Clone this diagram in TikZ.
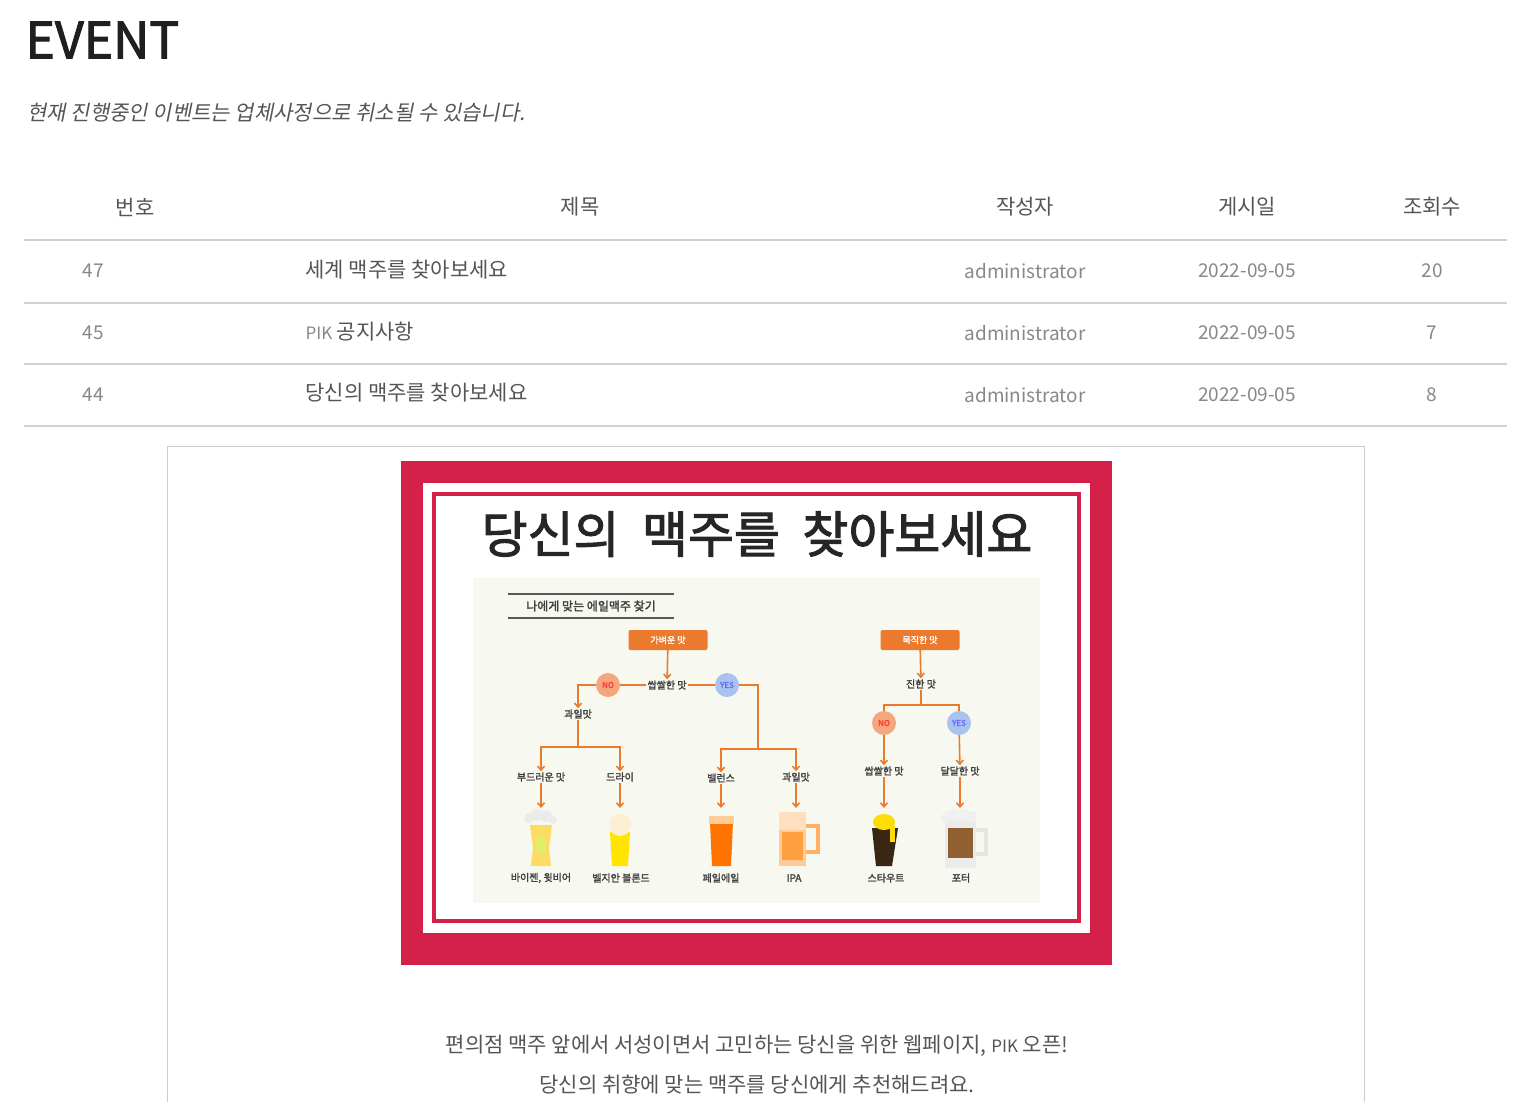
\documentclass[tikz,border=0pt]{standalone}
\usepackage{fontspec}
\usetikzlibrary{arrows.meta}
\setmainfont{Noto Sans CJK KR}
\newfontfamily\kr{Noto Sans CJK KR}
\newfontfamily\krit[FakeSlant=0.2]{Noto Sans CJK KR}
\newfontfamily\krb[FakeBold=2]{Noto Sans CJK KR}
\definecolor{frred}{HTML}{D42149}
\definecolor{orng}{HTML}{EC7A2E}
\definecolor{txtg}{HTML}{555555}
\definecolor{ltg}{HTML}{888888}
\definecolor{pale}{HTML}{F7F9F1}
\definecolor{nocol}{HTML}{F4A77F}
\definecolor{yescol}{HTML}{A9C2EE}
\begin{document}
\begin{tikzpicture}[x=1pt,y=-1pt,
  hdr/.style={font=\fontsize{21}{24}\selectfont\kr, text=txtg},
  cell/.style={font=\fontsize{19}{22}\selectfont\kr, text=ltg},
  ttl/.style={font=\fontsize{21}{24}\selectfont\kr, text=txtg, anchor=west},
  sep/.style={draw=black!18, line width=1.2},
  obox/.style={fill=orng, rounded corners=2, minimum width=79, minimum height=20, text=white, font=\fontsize{9}{10}\selectfont\krb, inner sep=0},
  lab/.style={font=\fontsize{10}{11}\selectfont\krb, text=black!75, inner sep=1},
  fl/.style={draw=orng, line width=1.6},
  fa/.style={draw=orng, line width=1.6, -{Straight Barb[length=4,width=7]}},
  nob/.style={circle, fill=nocol, minimum size=24, inner sep=0, text=red!80, font=\fontsize{8}{9}\selectfont\krb},
  yesb/.style={circle, fill=yescol, minimum size=24, inner sep=0, text=blue!60, font=\fontsize{8}{9}\selectfont\krb},
  body/.style={font=\fontsize{21}{24}\selectfont\kr, text=txtg}
]
\useasboundingbox (0,0) rectangle (1525,1102);
\fill[white] (0,0) rectangle (1525,1102);
% header
\node[anchor=west, font=\fontsize{50}{56}\selectfont\krb, text=black!88] (ev) at (22,40) {EVENT};
\node[anchor=west, font=\fontsize{21}{24}\selectfont\krit, text=txtg] (sub) at (24,113) {현재 진행중인 이벤트는 업체사정으로 취소될 수 있습니다.};
% table
\node[hdr] (h1) at (135,207) {번호};
\node[hdr] (h2) at (580,207) {제목};
\node[hdr] (h3) at (1025,207) {작성자};
\node[hdr] (h4) at (1247,207) {게시일};
\node[hdr] (h5) at (1432,207) {조회수};
\draw[sep] (24,240) -- (1507,240);
\draw[sep] (24,303) -- (1507,303);
\draw[sep] (24,364) -- (1507,364);
\draw[sep] (24,426) -- (1507,426);
\node[cell] (r1a) at (93,271) {47};
\node[ttl] (r1b) at (302,270) {세계 맥주를 찾아보세요};
\node[cell] (r1c) at (1025,271) {administrator};
\node[cell] (r1d) at (1247,271) {2022-09-05};
\node[cell] (r1e) at (1432,271) {20};
\node[cell] (r2a) at (93,333) {45};
\node[ttl] (r2b) at (302,332) {{\fontsize{17}{20}\selectfont\color{ltg}PIK} 공지사항};
\node[cell] (r2c) at (1025,333) {administrator};
\node[cell] (r2d) at (1247,333) {2022-09-05};
\node[cell] (r2e) at (1432,333) {7};
\node[cell] (r3a) at (93,395) {44};
\node[ttl] (r3b) at (302,393) {당신의 맥주를 찾아보세요};
\node[cell] (r3c) at (1025,395) {administrator};
\node[cell] (r3d) at (1247,395) {2022-09-05};
\node[cell] (r3e) at (1432,395) {8};
% content box
\draw[black!20, line width=1] (167,1110) -- (167,446) -- (1364,446) -- (1364,1110);
% poster frame
\fill[frred] (401,461) rectangle (1112,965);
\fill[white] (423,483) rectangle (1090,933);
\draw[frred, line width=4] (434,494) rectangle (1079,921);
\node[font=\fontsize{50}{56}\selectfont\krb, text=black!85] (pt) at (757,534) {당신의\ \ 맥주를\ \ 찾아보세요};
\fill[pale] (473,578) rectangle (1040,903);
\node[font=\fontsize{12}{14}\selectfont\krb, text=black!75] (it) at (591,606) {나에게 맞는 에일맥주 찾기};
\draw[black!65, line width=1.8] (508,594) -- (674,594) (508,618) -- (674,618);
% left tree
\node[obox] (lb) at (668,640) {가벼운 맛};
\node[lab] (ss) at (667,685) {쌉쌀한 맛};
\node[nob] (no1) at (608,685) {NO};
\node[yesb] (ye1) at (727,685) {YES};
\draw[fa] (lb) -- (ss);
\draw[fl] (ss) -- (no1) (ss) -- (ye1);
\node[lab] (fr1) at (578,714) {과일맛};
\draw[fa] (no1) -| (fr1);
\node[lab] (sm) at (541,777) {부드러운 맛};
\node[lab] (dr) at (620,777) {드라이};
\coordinate (j1) at (578,747);
\draw[fl] (fr1) -- (j1);
\draw[fa] (j1) -| (sm);
\draw[fa] (j1) -| (dr);
\node[lab] (bal) at (721,778) {밸런스};
\node[lab] (fr2) at (796,777) {과일맛};
\coordinate (j2) at (758,749);
\draw[fl] (ye1) -| (j2);
\draw[fa] (j2) -| (bal);
\draw[fa] (j2) -| (fr2);
% right tree
\node[obox] (hb) at (920,640) {묵직한 맛};
\node[lab] (jh) at (921,684) {진한 맛};
\draw[fa] (hb) -- (jh);
\node[nob] (no2) at (884,723) {NO};
\node[yesb] (ye2) at (959,723) {YES};
\coordinate (j3) at (921,705);
\draw[fl] (jh) -- (j3);
\draw[fl] (j3) -| (no2);
\draw[fl] (j3) -| (ye2);
\node[lab] (ss2) at (884,771) {쌉쌀한 맛};
\node[lab] (dd) at (960,771) {달달한 맛};
\draw[fa] (no2) -- (ss2);
\draw[fa] (ye2) -- (dd);
% beer labels
\node[lab] (b1) at (541,878) {바이젠, 윗비어};
\node[lab] (b2) at (621,878) {벨지안 블론드};
\node[lab] (b3) at (721,878) {페일에일};
\node[lab] (b4) at (794,878) {IPA};
\node[lab] (b5) at (886,878) {스타우트};
\node[lab] (b6) at (961,878) {포터};
\coordinate (g1) at (541,808); \coordinate (g2) at (620,808);
\coordinate (g3) at (721,808); \coordinate (g4) at (796,808);
\coordinate (g5) at (884,808); \coordinate (g6) at (960,808);
\draw[fa] (sm) -- (g1); \draw[fa] (dr) -- (g2);
\draw[fa] (bal) -- (g3); \draw[fa] (fr2) -- (g4);
\draw[fa] (ss2) -- (g5); \draw[fa] (dd) -- (g6);
% glasses
\fill[yellow!60!orange!60] (530,825) -- (552,825) -- (549,848) -- (551,866) -- (531,866) -- (533,848) -- cycle;
\fill[yellow!80!green!60] (541,845) ellipse (5 and 10);
\fill[black!8] (529,818) circle (5) (537,815) circle (6) (546,816) circle (6) (553,820) circle (4);
\fill[orange!20!yellow] (610,832) -- (630,832) -- (628,866) -- (612,866) -- cycle;
\fill[yellow!20!orange!15] (620,825) circle (11);
\fill[orange!90!red] (710,822) -- (733,822) -- (731,866) -- (712,866) -- cycle;
\fill[orange!40] (709,816) rectangle (734,824);
\draw[orange!60, line width=4] (805,826) -- (818,826) -- (818,852) -- (805,852);
\fill[orange!40] (779,818) rectangle (806,866);
\fill[orange!75] (782,832) rectangle (803,860);
\fill[orange!25] (779,812) rectangle (806,830);
\fill[black!70!brown] (872,828) -- (898,828) -- (892,866) -- (876,866) -- cycle;
\fill[yellow!80!orange] (884,822) ellipse (11 and 8);
\fill[yellow!80!orange] (890,826) rectangle (895,842);
\draw[black!10, line width=4] (975,830) -- (986,830) -- (986,854) -- (975,854);
\fill[black!8] (945,812) rectangle (976,868);
\fill[brown!75!black] (948,828) rectangle (973,858);
\fill[black!6] (946,818) circle (5) (954,815) circle (6) (964,815) circle (6) (972,818) circle (5);
% bottom text
\node[body] (t1) at (757,1046) {편의점 맥주 앞에서 서성이면서 고민하는 당신을 위한 웹페이지, {\fontsize{17}{20}\selectfont PIK} 오픈!};
\node[body] (t2) at (757,1085) {당신의 취향에 맞는 맥주를 당신에게 추천해드려요.};
\end{tikzpicture}
\end{document}
